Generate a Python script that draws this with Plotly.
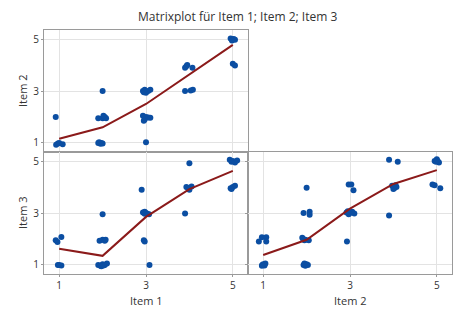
import plotly.graph_objects as go

title = "Matrixplot für Item 1; Item 2; Item 3"
tick_vals = [1, 3, 5]
tick_text = ["1", "3", "5"]

# Panel A: Item 2 (y) vs Item 1 (x), jittered points
a_x = [0.92, 0.93, 0.97, 1.0, 1.08,
       1.9, 1.95, 1.92, 1.97, 2.0, 2.0,
       1.9, 2.0, 2.05, 2.08, 2.02,
       2.93, 2.97, 3.0, 3.05, 3.1, 2.95,
       2.93, 2.97, 3.0, 3.05, 3.1, 2.95, 3.0,
       3.9, 3.95, 4.07, 3.93, 3.9, 4.03, 4.08,
       4.95, 5.0, 5.05, 5.02, 4.98, 5.0, 5.05]
a_y = [2.0, 0.93, 0.98, 1.0, 0.95,
       1.0, 0.97, 1.03, 1.0, 0.98, 3.0,
       1.95, 1.95, 2.0, 1.95, 2.05,
       3.0, 3.05, 2.93, 3.0, 3.05, 2.95,
       2.05, 1.9, 2.0, 1.98, 1.97, 1.85, 1.03,
       3.9, 4.0, 3.9, 3.95, 3.0, 3.02, 3.05,
       5.02, 4.98, 4.97, 5.0, 4.95, 4.05, 3.98]
a_fit = [1.16, 1.6, 2.5, 3.65, 4.78]

# Panel B: Item 3 (y) vs Item 1 (x)
b_x = [0.92, 0.96, 1.05, 0.97, 1.05, 1.0,
       2.0, 1.93, 2.0, 2.05, 2.07,
       1.9, 1.95, 2.0, 2.05, 2.1, 1.97, 2.02,
       2.9, 2.93, 2.97, 3.0, 3.03, 3.07, 2.97, 2.95, 2.97, 3.08,
       4.0, 3.93, 3.97, 4.05, 4.0, 3.9,
       4.93, 4.97, 5.0, 5.05, 5.1, 4.97, 5.0, 5.05, 4.95]
b_y = [1.95, 1.88, 2.08, 1.0, 0.98, 1.0,
       2.95, 1.93, 1.97, 1.93, 1.97,
       1.0, 0.97, 1.03, 1.0, 1.05, 0.95, 0.98,
       3.9, 3.02, 3.05, 3.0, 2.97, 2.95, 2.97, 1.95, 1.9, 1.0,
       4.92, 4.0, 3.95, 4.02, 3.9, 2.98,
       5.05, 4.97, 5.0, 4.95, 5.02, 3.92, 4.0, 4.05, 3.95]
b_fit = [1.62, 1.35, 2.85, 3.92, 4.62]

# Panel C: Item 3 (y) vs Item 2 (x)
c_x = [0.9, 0.97, 1.07, 1.07, 0.97, 1.0, 1.03, 1.05, 0.98,
       2.0, 1.93, 2.07, 2.07, 1.9, 1.95, 2.05, 1.92, 1.97,
       1.93, 1.97, 2.0, 2.03, 1.95,
       2.97, 3.03, 3.08, 2.92, 2.97, 3.0, 3.05, 3.1, 2.95, 2.93,
       3.9, 4.1, 3.97, 4.02, 4.07, 4.0, 4.05, 3.9,
       4.95, 5.0, 5.05, 5.02, 4.98, 4.9, 4.95, 5.08]
c_y = [1.9, 2.07, 2.07, 1.9, 0.97, 1.03, 0.98, 1.05, 1.0,
       3.97, 3.0, 3.05, 2.93, 2.05, 1.95, 1.95, 2.0, 1.97,
       1.0, 0.97, 1.03, 1.0, 1.05,
       4.1, 4.1, 3.88, 3.02, 2.95, 3.0, 3.05, 2.98, 3.07, 1.9,
       5.05, 4.97, 4.05, 3.95, 4.0, 3.92, 4.07, 2.9,
       5.0, 5.07, 4.95, 5.0, 4.97, 4.1, 4.07, 3.95]
c_fit = [1.38, 1.97, 3.17, 4.12, 4.65]

fit_x = [1, 2, 3, 4, 5]

W, H = 474, 316
def fx(p):
    return p / W
def fy(p):
    return 1 - p / H

L, M, R = 44, 248, 452
T, MID, B = 30, 152, 274

point_color = "#0B4EA2"
line_color = "#8B1A1A"
fontfam = "Open Sans, Noto Sans, sans-serif"

fig = go.Figure()
panels = [
    (a_x, a_y, a_fit, "x", "y"),
    (b_x, b_y, b_fit, "x2", "y2"),
    (c_x, c_y, c_fit, "x3", "y3"),
]
for px, py, fit, xa, ya in panels:
    fig.add_trace(go.Scatter(x=px, y=py, mode="markers", xaxis=xa, yaxis=ya,
                             marker=dict(color=point_color, size=6, line=dict(width=0)),
                             showlegend=False))
    fig.add_trace(go.Scatter(x=fit_x, y=fit, mode="lines", xaxis=xa, yaxis=ya,
                             line=dict(color=line_color, width=2), showlegend=False))

axis_common = dict(range=[0.65, 5.35], tickvals=tick_vals, ticktext=tick_text,
                   showgrid=True, gridcolor="#E3E3E3", gridwidth=1,
                   showline=True, linecolor="#9A9A9A", linewidth=1, mirror=True,
                   zeroline=False, ticks="outside", ticklen=2, tickcolor="#9A9A9A",
                   tickfont=dict(family=fontfam, size=10, color="#333333"))

fig.update_layout(
    width=W, height=H, margin=dict(l=0, r=0, t=0, b=0),
    paper_bgcolor="white", plot_bgcolor="white",
    xaxis=dict(domain=[fx(L), fx(M)], anchor="y", showticklabels=False, **axis_common),
    yaxis=dict(domain=[fy(MID), fy(T)], anchor="x", **axis_common),
    xaxis2=dict(domain=[fx(L), fx(M)], anchor="y2", **axis_common),
    yaxis2=dict(domain=[fy(B), fy(MID)], anchor="x2", **axis_common),
    xaxis3=dict(domain=[fx(M), fx(R)], anchor="y3", **axis_common),
    yaxis3=dict(domain=[fy(B), fy(MID)], anchor="x3", showticklabels=False, **axis_common),
)

ann_font = dict(family=fontfam, size=11, color="#333333")
def label(text, x, y, angle=0, font=ann_font):
    fig.add_annotation(text=text, x=fx(x), y=fy(y), xref="paper", yref="paper",
                       xanchor="center", yanchor="middle", showarrow=False,
                       textangle=angle, font=font)

label(title, W / 2, 16, font=dict(family=fontfam, size=12, color="#333333"))
label("Item 2", 22, (T + MID) / 2, -90)
label("Item 3", 22, (MID + B) / 2, -90)
label("Item 1", (L + M) / 2, 300)
label("Item 2", (M + R) / 2, 300)

fig.write_html("out.html")
